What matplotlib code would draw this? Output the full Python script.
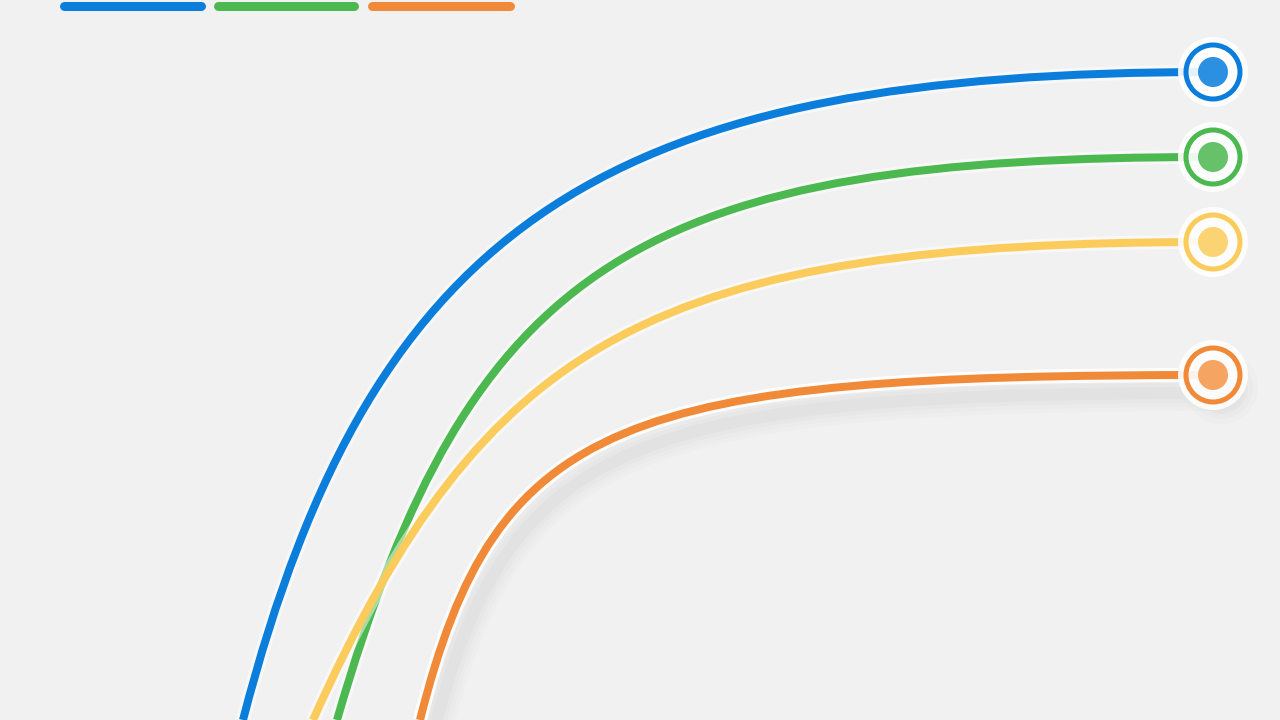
import numpy as np
import matplotlib.pyplot as plt
from matplotlib.patches import Circle, PathPatch
from matplotlib.path import Path

# bezier control points (pixel space, y down)
# start, control 1, control 2, end marker
blue_x = [243, 374, 613, 1213]
blue_y = [720, 215, 72, 72]

green_x = [337, 471, 643, 1213]
green_y = [720, 258, 157, 157]

yellow_x = [313, 485, 653, 1213]
yellow_y = [720, 338, 242, 242]

orange_x = [420, 496, 623, 1213]
orange_y = [720, 416, 375, 375]

# top strip of dashes
legend_x0 = [64, 218, 372]
legend_x1 = [201, 354, 510]
legend_colors = ['#0B7DDA', '#4CB850', '#F08A38']

series = [
    (blue_x, blue_y, '#0B7DDA', '#2C90E2', 0.5),
    (green_x, green_y, '#4CB850', '#66C268', 0.5),
    (yellow_x, yellow_y, '#FBCB5C', '#FCD373', 0.5),
    (orange_x, orange_y, '#F08A38', '#F6A461', 0.9),
]

px = 0.72  # points per pixel at dpi 100
codes = [Path.MOVETO, Path.CURVE4, Path.CURVE4, Path.CURVE4]


def curve(x, y, dx=0, dy=0):
    return Path(np.column_stack([np.array(x) + dx, np.array(y) + dy]), codes)


fig = plt.figure(figsize=(12.8, 7.2), dpi=100)
fig.patch.set_facecolor('#F1F1F1')
ax = fig.add_axes([0, 0, 1, 1])
ax.set_facecolor('#F1F1F1')
ax.set_xlim(0, 1280)
ax.set_ylim(720, 0)
ax.axis('off')

# soft shadow under the orange curve
for w, a in [(36, 0.025), (28, 0.035), (20, 0.045), (12, 0.06)]:
    ax.add_patch(PathPatch(curve(orange_x, orange_y, 12, 18), fill=False,
                           ec='#9A9A9A', lw=w * px, alpha=a,
                           capstyle='round', zorder=1))
for w, a in [(74, 0.03), (64, 0.04), (54, 0.05)]:
    ax.add_patch(Circle((orange_x[-1] + 8, orange_y[-1] + 12), w / 2,
                        color='#9A9A9A', alpha=a, lw=0, zorder=1))

for i, (x, y, c, ci, halo) in enumerate(series):
    z = 2 + i * 0.1
    ax.add_patch(PathPatch(curve(x, y), fill=False, ec='white', lw=14 * px,
                           alpha=halo, capstyle='butt', zorder=z))
    ax.add_patch(PathPatch(curve(x, y), fill=False, ec=c, lw=8 * px,
                           capstyle='butt', zorder=z + 0.01))
    cx, cy = x[-1], y[-1]
    ax.add_patch(Circle((cx, cy), 35, color='white', alpha=0.9, lw=0, zorder=z + 0.02))
    ax.add_patch(Circle((cx, cy), 27, fill=False, ec=c, lw=5 * px, zorder=z + 0.03))
    ax.add_patch(Circle((cx, cy), 15, color=ci, lw=0, zorder=z + 0.04))

for x0, x1, c in zip(legend_x0, legend_x1, legend_colors):
    ax.plot([x0, x1], [6, 6], color=c, lw=9 * px, solid_capstyle='round', zorder=5)

fig.savefig('out.png', dpi=100, facecolor=fig.get_facecolor())
